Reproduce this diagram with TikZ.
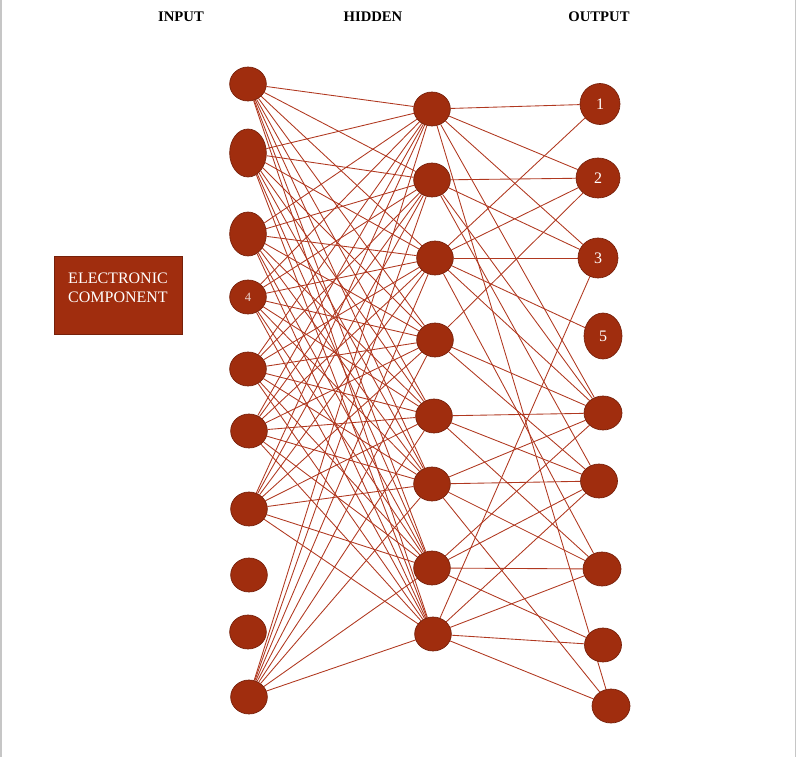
\documentclass[tikz,border=0pt]{standalone}
\usepackage{fontspec}
\setmainfont{Liberation Serif}
\usetikzlibrary{shapes.geometric,backgrounds}
\definecolor{rust}{RGB}{160,45,14}
\definecolor{rustedge}{RGB}{118,32,10}
\definecolor{linkred}{RGB}{176,56,32}

\begin{document}
\begin{tikzpicture}[x=0.75pt,y=-0.75pt,
    neuron/.style={ellipse,fill=rust,draw=rustedge,line width=0.5pt,inner sep=0pt,
      minimum width=27.5pt,minimum height=25.5pt,text=white,font=\fontsize{12}{13}\selectfont},
    link/.style={draw=linkred,line width=0.65pt},
    heading/.style={font=\bfseries\fontsize{11}{12}\selectfont}]
  \useasboundingbox (0,0) rectangle (797,757);
  \draw[gray!45,line width=0.8pt] (1,0) -- (1,757) (795.5,0) -- (795.5,757);

  % headings
  \node[heading] (tinput) at (181,17) {INPUT};
  \node[heading] (thidden) at (373,17) {HIDDEN};
  \node[heading] (toutput) at (599,17) {OUTPUT};

  % component box
  \node[fill=rust,draw=rustedge,line width=0.5pt,minimum width=96pt,minimum height=58.5pt] (comp) at (118,295) {};
  \node[text=white,align=center,font=\fontsize{12}{14.25}\selectfont] (complabel) at (118,288) {ELECTRONIC\\COMPONENT};

  % input layer
  \foreach \n/\x/\y/\h in {1/248/84/34,2/248/153/48,3/248/234/44,4/248/297/34,5/248/369/34,
      6/249/431/34,7/249/509/34,8/249/575/34,9/248/632/34,10/249/697/34}
    \node[neuron,minimum height=0.75*\h pt] (i\n) at (\x,\y) {};
  \node[text=white!80!rust,font=\fontsize{9.5}{10}\selectfont] (i4label) at (i4) {4};

  % hidden layer
  \foreach \n/\x/\y in {1/432/109,2/432/180,3/435/258,4/435/340,5/434/416,6/432/484,7/432/568,8/433/634}
    \node[neuron] (h\n) at (\x,\y) {};

  % output layer
  \foreach \n/\x/\y/\w/\h/\l in {1/600/104/40/41/1,2/598/178/44/40/2,3/598/258/40/40/3,4/603/336/38/46/5,
      5/603/413/38/34/,6/599/481/37/34/,7/602/569/38/34/,8/603/645/37/34/,9/611/706/38/34/}
    \node[neuron,minimum width=0.75*\w pt,minimum height=0.75*\h pt] (o\n) at (\x,\y) {\l};

  % connections
  \begin{scope}[on background layer]
    \foreach \i in {1,...,7,10}
      \foreach \h in {1,...,8}
        \draw[link] (i\i) -- (h\h);
    \foreach \h/\o in {1/1,1/2,1/3,1/5,1/9,2/2,2/3,2/5,2/6,3/1,3/2,3/3,3/4,3/5,3/7,
        4/2,4/5,4/6,5/5,5/6,5/7,6/5,6/6,6/7,6/9,7/5,7/6,7/7,7/8,8/3,8/6,8/7,8/8,8/9}
      \draw[link] (h\h) -- (o\o);
  \end{scope}
\end{tikzpicture}
\end{document}
